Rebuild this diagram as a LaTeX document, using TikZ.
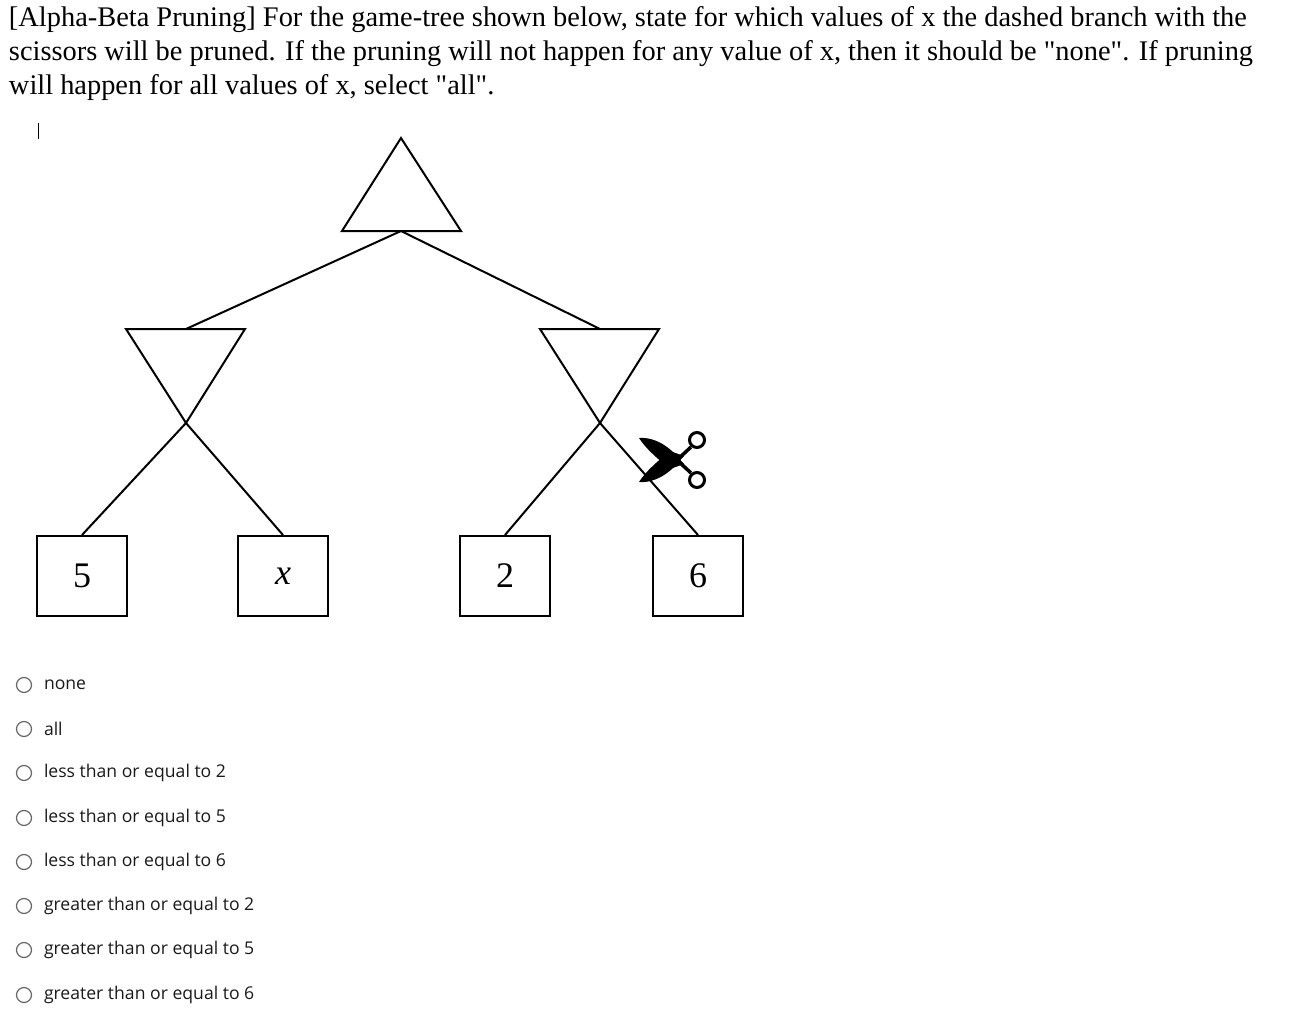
\documentclass[tikz,border=0pt]{standalone}
\usepackage{fontspec}
\setmainfont{Liberation Serif}[Ligatures=TeXOff]
\newfontfamily\optfont{Open Sans}
\begin{document}
\begin{tikzpicture}[x=1pt,y=-1pt,line width=2pt,
  q/.style={anchor=base west,inner sep=0pt,font=\fontsize{28.4}{32}\selectfont},
  leaf/.style={draw,minimum width=90pt,minimum height=80pt,inner sep=0pt,font=\fontsize{36}{40}\selectfont},
  opt/.style={anchor=west,inner sep=0pt,font=\optfont\fontsize{17.6}{20}\selectfont,text=black!90},
  radio/.style={draw=black!60,line width=1.2pt,circle,minimum size=15pt,inner sep=0pt}]
\useasboundingbox (0,0) rectangle (1294,1022);
\node[q] (t1) at (8,27) {[Alpha-Beta Pruning] For the game-tree shown below, state for which values of x the dashed branch with the};
\node[q] (t2) at (8,61) {scissors will be pruned. If the pruning will not happen for any value of x, then it should be "none". If pruning};
\node[q] (t3) at (8,95) {will happen for all values of x, select "all".};
\draw[line width=1pt] (38,123) -- (38,139);
% root max
\draw (401,138) -- (461,231) -- (342,231) -- cycle;
\coordinate (r) at (401,231);
% min nodes
\draw (126,329) -- (245,329) -- (186,423) -- cycle;
\draw (540,329) -- (659,329) -- (600,423) -- cycle;
\coordinate (m1t) at (186,329); \coordinate (m1b) at (186,423);
\coordinate (m2t) at (600,329); \coordinate (m2b) at (600,423);
\draw (r) -- (m1t); \draw (r) -- (m2t);
\node[leaf] (l1) at (82,576) {5};
\node[leaf] (l2) at (283,576) {\textit{x}};
\node[leaf] (l3) at (505,576) {2};
\node[leaf] (l4) at (698,576) {6};
\draw (m1b) -- (l1.north); \draw (m1b) -- (l2.north);
\draw (m2b) -- (l3.north); \draw (m2b) -- (l4.north);
% scissors
\coordinate (pv) at (677,460);
\fill (684,464) -- (672,451) .. controls (662,442) and (650,437) .. (639,438) .. controls (646,449) and (658,459) .. (670,469) -- cycle;
\fill (684,456) -- (672,469) .. controls (662,478) and (650,483) .. (639,482) .. controls (646,471) and (658,461) .. (670,451) -- cycle;
\draw[line width=3.5pt] (pv) -- (691,447) (pv) -- (691,473);
\draw[line width=3pt,fill=white] (697,440) circle (7.5);
\draw[line width=3pt,fill=white] (697,480) circle (7.5);
% options
\foreach \y/\t [count=\i] in {685/none,729/all,773/less than or equal to 2,818/less than or equal to 5,862/less than or equal to 6,906/greater than or equal to 2,950/greater than or equal to 5,995/greater than or equal to 6}{
  \node[radio] (rb\i) at (24,\y) {};
  \node[opt] (o\i) at (43,\y) {\t};
}
\end{tikzpicture}
\end{document}
